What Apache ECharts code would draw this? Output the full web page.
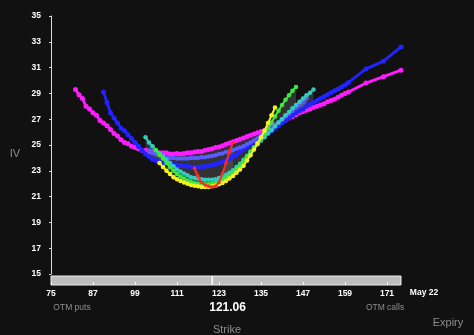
<!DOCTYPE html>
<html><head><meta charset="utf-8">
<script src="https://cdn.jsdelivr.net/npm/echarts@6/dist/echarts.min.js"></script>
<style>html,body{margin:0;padding:0;background:#111111;}#c{width:474px;height:335px;}</style>
</head><body><div id="c"></div>
<script>
// ---- tick labels & annotations ----
const xTickLabels = [75, 87, 99, 111, 123, 135, 147, 159, 171];
const yTickLabels = [15, 17, 19, 21, 23, 25, 27, 29, 31, 33, 35];
const spotPrice = 121.06;
const expiryLabel = 'May 22';

// ---- expiry curves (strike, implied vol) ----
const redStrikes = [116,117,118,119,120,121,122,123,124,125,126,127];
const redIV =      [23.2,22.6,22.1,21.9,21.8,21.75,21.8,22.1,22.8,23.6,24.5,25.2];

const yellowStrikes = [106,107,108,109,110,111,112,113,114,115,116,117,118,119,120,121,122,123,124,125,126,127,128,129,130,131,132,133,134,135,136,137,138,139];
const yellowIV =      [23.6,23.3,23.0,22.75,22.5,22.35,22.2,22.1,22.0,21.9,21.85,21.8,21.75,21.75,21.75,21.8,21.85,21.95,22.05,22.2,22.4,22.6,22.85,23.1,23.4,23.8,24.2,24.65,25.1,25.6,26.1,26.7,27.3,27.9];

const greenStrikes = [105,106,107,108,109,110,111,112,113,114,115,116,117,118,119,120,121,122,123,124,125,126,127,128,129,130,131,132,133,134,135,136,137,138,139,140,141,142,143,144,145];
const greenIV =      [24.6,24.25,23.95,23.6,23.3,23.0,22.75,22.55,22.4,22.25,22.15,22.05,22.0,21.95,21.95,21.95,22.0,22.05,22.15,22.3,22.45,22.65,22.85,23.1,23.4,23.75,24.1,24.45,24.8,25.15,25.5,25.9,26.3,26.75,27.2,27.65,28.1,28.5,28.85,29.2,29.5];

const cyanStrikes = [102,103,104,105,106,107,108,109,110,111,112,113,114,115,116,117,118,119,120,121,122,123,124,125,126,127,128,129,130,131,132,133,134,135,136,137,138,139,140,141,142,143,144,145,146,147,148,149,150];
const cyanIV =      [25.6,25.2,24.9,24.6,24.35,24.1,23.85,23.6,23.35,23.1,22.95,22.8,22.65,22.5,22.45,22.4,22.35,22.3,22.3,22.3,22.35,22.45,22.55,22.7,22.85,23.05,23.3,23.55,23.85,24.15,24.5,24.8,25.05,25.35,25.6,25.9,26.15,26.45,26.75,27.0,27.3,27.55,27.85,28.1,28.35,28.6,28.85,29.05,29.3];

const blueStrikes = [90,91,92,93,94,95,96,97,98,99,100,101,102,103,104,105,106,107,108,109,110,111,112,113,114,115,116,117,118,119,120,121,122,123,124,125,126,127,128,129,130,131,132,133,134,135,136,137,138,139,140,141,142,143,144,145,146,147,148,149,150,151,152,153,154,155,156,157,158,159,160,165,170,175];
const blueIV =      [29.1,28.3,27.5,27.1,26.7,26.3,26.1,25.8,25.5,25.2,24.9,24.6,24.3,24.1,23.9,23.8,23.7,23.65,23.6,23.55,23.5,23.45,23.4,23.4,23.35,23.3,23.3,23.3,23.3,23.35,23.4,23.45,23.5,23.6,23.7,23.8,23.95,24.1,24.25,24.45,24.65,24.85,25.05,25.25,25.45,25.6,25.75,25.9,26.1,26.3,26.5,26.7,26.9,27.1,27.3,27.5,27.65,27.8,28.0,28.15,28.3,28.45,28.6,28.75,28.9,29.05,29.2,29.35,29.5,29.65,29.85,30.9,31.5,32.6];

const violetStrikes = [103,104,105,106,107,108,109,110,111,112,113,114,115,116,117,118,119,120,121,122,123,124,125,126,127,128,129,130,131,132,133,134,135,136,137,138,139,140,141,142,143,144,145,146,147,148];
const violetIV =      [24.6,24.4,24.3,24.2,24.1,24.05,24.0,24.0,23.95,23.95,23.95,23.95,24.0,24.0,24.0,24.05,24.05,24.1,24.15,24.2,24.3,24.35,24.45,24.5,24.6,24.7,24.8,24.9,25.05,25.2,25.35,25.5,25.7,25.9,26.1,26.3,26.5,26.75,27.0,27.2,27.45,27.65,27.9,28.1,28.35,28.6];

const magentaStrikes = [82,83,84,85,86,87,88,89,90,91,92,93,94,95,96,97,98,99,100,101,102,103,104,105,106,107,108,109,110,111,112,113,114,115,116,117,118,119,120,121,122,123,124,125,126,127,128,129,130,131,132,133,134,135,136,137,138,139,140,141,142,143,144,145,146,147,148,149,150,151,152,153,154,155,156,157,158,159,160,165,170,175];
const magentaIV =      [29.3,28.9,28.6,28.0,27.8,27.5,27.3,26.9,26.7,26.5,26.2,25.9,25.7,25.4,25.2,25.1,24.9,24.8,24.7,24.6,24.6,24.5,24.5,24.4,24.4,24.4,24.4,24.3,24.3,24.35,24.3,24.35,24.4,24.4,24.45,24.5,24.5,24.6,24.65,24.7,24.8,24.85,24.95,25.05,25.15,25.25,25.35,25.45,25.55,25.65,25.75,25.85,25.95,26.05,26.15,26.3,26.4,26.55,26.7,26.85,26.95,27.1,27.2,27.35,27.5,27.6,27.7,27.8,27.9,28.0,28.1,28.2,28.35,28.45,28.55,28.7,28.85,29.0,29.1,29.8,30.3,30.8];

// ---- chart ----
const curves = [
  {name:'r', x:redStrikes, y:redIV, color:'#ff2a2a', w:2, s:3.5, z:9},
  {name:'y', x:yellowStrikes, y:yellowIV, color:'#f4f420', w:2, s:4.5, z:8},
  {name:'g', x:greenStrikes, y:greenIV, color:'#3ee83e', w:2, s:4.5, z:7},
  {name:'c', x:cyanStrikes, y:cyanIV, color:'#36c9be', w:2, s:4.5, z:6},
  {name:'b', x:blueStrikes, y:blueIV, color:'#2323ff', w:2.8, s:5, z:4},
  {name:'v', x:violetStrikes, y:violetIV, color:'#5a5cff', w:2.2, s:4.5, z:5},
  {name:'m', x:magentaStrikes, y:magentaIV, color:'#ff1cff', w:2.8, s:5, z:3}
];

function bandPoly(a, b) {
  const lo = Math.max(a.x[0], b.x[0]);
  const hi = Math.min(a.x[a.x.length-1], b.x[b.x.length-1]);
  const pa = [], pb = [];
  a.x.forEach((x,i)=>{ if (x>=lo && x<=hi) pa.push([x, a.y[i]]); });
  b.x.forEach((x,i)=>{ if (x>=lo && x<=hi) pb.push([x, b.y[i]]); });
  return pa.concat(pb.reverse());
}

const series = [];
for (let i = 0; i < curves.length - 1; i++) {
  const poly = bandPoly(curves[i], curves[i+1]);
  series.push({
    type:'custom', silent:true, z:1, data:[[spotPrice, 24]],
    encode:{x:0, y:1},
    renderItem:(params, api) => ({
      type:'polygon',
      shape:{points: poly.map(p => api.coord(p))},
      style:{fill:'rgba(120,120,120,0.32)'}
    })
  });
}
curves.forEach(c => {
  series.push({
    type:'line', name:c.name, z:c.z,
    data:c.x.map((x,i)=>[x, c.y[i]]),
    symbol:'circle', symbolSize:c.s, showSymbol:true,
    itemStyle:{color:c.color}, lineStyle:{color:c.color, width:c.w},
    emphasis:{disabled:true}
  });
});

const chart = echarts.init(document.getElementById('c'));
chart.setOption({
  backgroundColor:'#111111',
  animation:false,
  grid:{left:51, right:73, top:16, bottom:61},
  xAxis:{
    type:'value', min:75, max:175, z:10, offset:11,
    axisLine:{show:false},
    axisTick:{show:true, inside:true, length:3, lineStyle:{color:'#ffffff', width:1}, customValues:xTickLabels},
    axisLabel:{color:'#ffffff', fontFamily:'Liberation Sans', fontWeight:'bold', fontSize:8.5, margin:4, customValues:xTickLabels},
    splitLine:{show:false}
  },
  yAxis:{
    type:'value', min:15, max:35,
    axisLine:{show:true, lineStyle:{color:'#d8d8d8', width:1}},
    axisTick:{show:true, length:2, lineStyle:{color:'#d8d8d8'}, customValues:yTickLabels},
    axisLabel:{color:'#ffffff', fontFamily:'Liberation Sans', fontWeight:'bold', fontSize:8.5, margin:10, customValues:yTickLabels},
    splitLine:{show:false}
  },
  series: series
});

const x0 = chart.convertToPixel({xAxisIndex:0}, 75);
const x1 = chart.convertToPixel({xAxisIndex:0}, 175);
const xs = chart.convertToPixel({xAxisIndex:0}, spotPrice);
const yb = chart.convertToPixel({yAxisIndex:0}, 15);
const gray = '#8e8e8e';
chart.setOption({
  graphic:[
    {type:'rect', z:0, shape:{x:x0, y:yb+2, width:x1-x0, height:9}, style:{fill:'#bdbdbd', stroke:'#ececec', lineWidth:1}},
    {type:'line', z:1, shape:{x1:xs, y1:yb+2, x2:xs, y2:yb+11}, style:{stroke:'#ffffff', lineWidth:1.5}},
    {type:'text', z:5, x:xs-3, y:308, style:{text:String(spotPrice), fill:'#ffffff', font:'bold 12px "Liberation Sans"', verticalAlign:'middle', align:'left'}},
    {type:'text', z:5, x:227, y:330, style:{text:'Strike', fill:gray, font:'11px "Liberation Sans"', verticalAlign:'middle', align:'center'}},
    {type:'text', z:5, x:72, y:308, style:{text:'OTM puts', fill:gray, font:'8.5px "Liberation Sans"', verticalAlign:'middle', align:'center'}},
    {type:'text', z:5, x:385, y:308, style:{text:'OTM calls', fill:gray, font:'8.5px "Liberation Sans"', verticalAlign:'middle', align:'center'}},
    {type:'text', z:5, x:424, y:293, style:{text:expiryLabel, fill:'#ffffff', font:'bold 8.5px "Liberation Sans"', verticalAlign:'middle', align:'center'}},
    {type:'text', z:5, x:448, y:323, style:{text:'Expiry', fill:gray, font:'11px "Liberation Sans"', verticalAlign:'middle', align:'center'}},
    {type:'text', z:5, x:15, y:154, style:{text:'IV', fill:gray, font:'11px "Liberation Sans"', verticalAlign:'middle', align:'center'}}
  ]
});
</script>
</body></html>
